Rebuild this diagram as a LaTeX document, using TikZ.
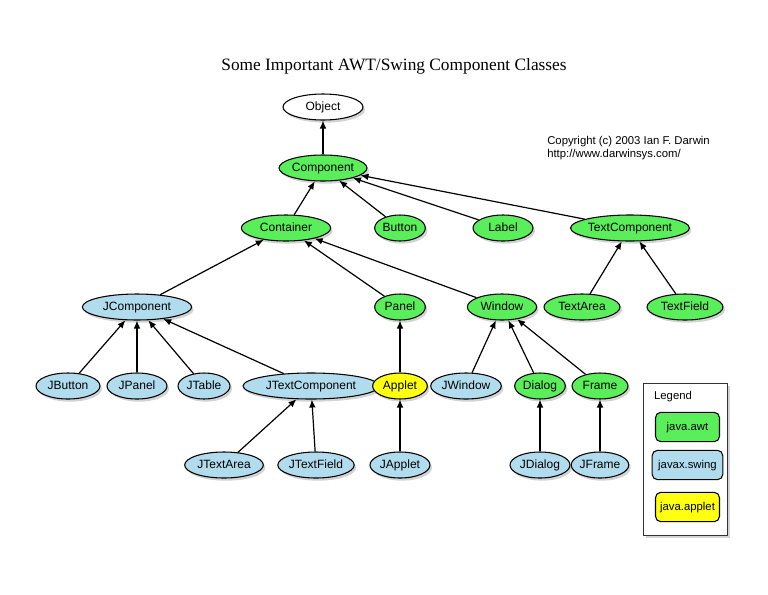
\documentclass[tikz,border=0pt]{standalone}
\usepackage{fontspec}
\setmainfont{Liberation Sans}
\newfontfamily\titlefont{Liberation Serif}
\usetikzlibrary{shapes.geometric,shadows,arrows.meta}
\definecolor{awt}{HTML}{5AEE5A}
\definecolor{swing}{HTML}{B0DCEE}
\definecolor{applet}{HTML}{FFFF10}
\begin{document}
\begin{tikzpicture}[x=0.75pt,y=-0.75pt,
  cls/.style={ellipse,draw=black,thick,minimum height=19.5pt,inner sep=0pt,text height=6.5pt,text depth=1.8pt,font=\fontsize{9}{10}\selectfont,drop shadow={opacity=0.35,shadow xshift=1.5pt,shadow yshift=-2pt}},
  aw/.style={cls,fill=awt},
  sw/.style={cls,fill=swing},
  ap/.style={cls,fill=applet},
  wh/.style={cls,fill=white},
  ed/.style={-{Latex[length=6pt,width=5pt]},line width=0.9pt}]
\useasboundingbox (0,0) rectangle (768,594);
\node[font=\titlefont\fontsize{13}{14}\selectfont] (title) at (394,66) {Some Important AWT/Swing Component Classes};
\node[anchor=north west,align=left,font=\fontsize{8.5}{9.5}\selectfont,inner sep=0pt] (copy) at (547,136) {Copyright (c) 2003 Ian F. Darwin\\http://www.darwinsys.com/};
\node[wh,minimum width=60pt] (object) at (323,107) {Object};
\node[aw,minimum width=66pt] (component) at (323,168) {Component};
\node[aw,minimum width=67pt] (container) at (286,228) {Container};
\node[aw,minimum width=38pt] (button) at (400,228) {Button};
\node[aw,minimum width=45pt] (label) at (503,228) {Label};
\node[aw,minimum width=88pt] (textcomp) at (630,228) {TextComponent};
\node[sw,minimum width=82pt] (jcomp) at (137,307) {JComponent};
\node[aw,minimum width=38pt] (panel) at (400,307) {Panel};
\node[aw,minimum width=52pt] (window) at (502,307) {Window};
\node[aw,minimum width=57pt] (textarea) at (582,307) {TextArea};
\node[aw,minimum width=57pt] (textfield) at (685,307) {TextField};
\node[sw,minimum width=48pt] (jbutton) at (68,386) {JButton};
\node[sw,minimum width=45pt] (jpanel) at (137,386) {JPanel};
\node[sw,minimum width=39pt] (jtable) at (204,386) {JTable};
\node[sw,minimum width=102pt] (jtextcomp) at (311,386) {JTextComponent};
\node[ap,minimum width=41pt] (applet) at (400,386) {Applet};
\node[sw,minimum width=53pt] (jwindow) at (466,386) {JWindow};
\node[aw,minimum width=38pt] (dialog) at (540,386) {Dialog};
\node[aw,minimum width=42pt] (frame) at (600,386) {Frame};
\node[sw,minimum width=59pt] (jtextarea) at (224,465) {JTextArea};
\node[sw,minimum width=57pt] (jtextfield) at (316,465) {JTextField};
\node[sw,minimum width=45pt] (japplet) at (400,465) {JApplet};
\node[sw,minimum width=45pt] (jdialog) at (540,465) {JDialog};
\node[sw,minimum width=42pt] (jframe) at (600,465) {JFrame};
\draw[ed] (component) -- (object);
\foreach \a in {container,button,label,textcomp} \draw[ed] (\a) -- (component);
\foreach \a in {jcomp,panel,window} \draw[ed] (\a) -- (container);
\foreach \a in {textarea,textfield} \draw[ed] (\a) -- (textcomp);
\foreach \a in {jbutton,jpanel,jtable,jtextcomp} \draw[ed] (\a) -- (jcomp);
\draw[ed] (applet) -- (panel);
\foreach \a in {jwindow,dialog,frame} \draw[ed] (\a) -- (window);
\foreach \a in {jtextarea,jtextfield} \draw[ed] (\a) -- (jtextcomp);
\draw[ed] (japplet) -- (applet);
\draw[ed] (jdialog) -- (dialog);
\draw[ed] (jframe) -- (frame);
% legend
\node[draw=black!80,thick,fill=white,minimum width=63pt,minimum height=114pt,anchor=north west,drop shadow={opacity=0.35,shadow xshift=1.5pt,shadow yshift=-2pt}] (legend) at (643,383) {};
\node[font=\fontsize{8.5}{9.5}\selectfont] (legt) at (673,397) {Legend};
\tikzset{lg/.style={draw=black,thick,rounded corners=4pt,minimum height=22pt,text height=6.5pt,text depth=1.8pt,font=\fontsize{8.5}{9.5}\selectfont}}
\node[lg,fill=awt,minimum width=48pt] (l1) at (687.5,427) {java.awt};
\node[lg,fill=swing,minimum width=53pt] (l2) at (687.5,465) {javax.swing};
\node[lg,fill=applet,minimum width=48pt] (l3) at (687.5,507) {java.applet};
\end{tikzpicture}
\end{document}
